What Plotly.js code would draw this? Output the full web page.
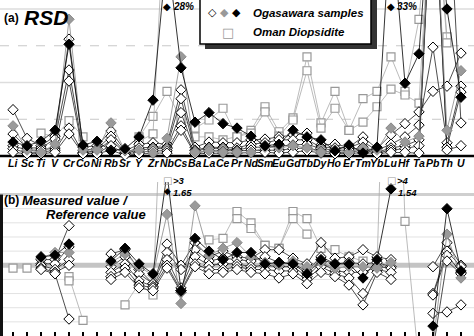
<!DOCTYPE html>
<html><head><meta charset="utf-8">
<script src="https://cdn.plot.ly/plotly-3.0.1.min.js"></script>
<style>html,body{margin:0;padding:0;background:#fff;}#chart{width:474px;height:336px;}</style>
</head><body><div id="chart"></div>
<script>
const elements = ['Li','Sc','Ti','V','Cr','Co','Ni','Rb','Sr','Y','Zr','Nb','Cs','Ba','La','Ce','Pr','Nd','Sm','Eu','Gd','Tb','Dy','Ho','Er','Tm','Yb','Lu','Hf','Ta','Pb','Th','U'];

// (a) RSD, % (values above the top of the scale are off-scale points)
const rsdBlack = [1.9,1.4,2.0,3.5,15.2,1.5,2.0,0.7,1.0,2.6, 7.6,28,12.0,4.6,5.9,4.4,3.8,2.7,1.4,1.6, 3.5,2.6,2.2,0.7,1.5,0.4,1.2,33,9.9,13.9, 40,20.0,8.0];
const rsdGray  = [4.1,0.8,0.5,1.6,18.6,0.8,0.8,4.5,0.7,0.8, 0.4,2.4,13.5,0.5,0.7,0.5,0.5,0.5,1.2,1.1, 1.4,1.1,0.5,0.8,0.5,1.1,0.8,3.8,1.9,2.7, 40,3.5,11.6];
const rsdW1 = [6.3,2.4,1.4,2.7,15.9,1.2,1.4,3.4,0.7,1.6, 1.8,1.6,9.0,1.2,1.9,1.8,1.8,2.2,2.3,2.6, 2.9,3.1,1.5,1.6,1.2,2.6,1.0,2.9,4.4,6.0, 8.8,9.5,14.0];
const rsdW2 = [3.0,1.1,1.1,2.3,11.7,0.8,1.0,2.7,0.5,1.1, 1.2,1.2,7.8,0.8,1.2,1.2,1.1,1.6,1.8,2.2, 2.2,2.2,1.2,1.1,1.1,1.9,0.8,1.6,2.6,4.2, 14.8,1.8,9.5];
const rsdW3 = [1.4,0.8,0.8,1.1,10.2,0.5,0.7,2.2,0.4,0.8, 1.0,1.0,5.9,0.7,1.0,1.0,0.8,1.2,1.2,1.4, 1.5,1.6,1.0,0.8,0.8,1.2,0.5,1.1,1.4,2.2, 40,1.2,8.7];
const rsdW4 = [1.0,0.4,0.5,0.8,3.8,0.4,0.4,1.4,0.3,0.5, 0.7,0.7,4.1,0.4,0.7,0.7,0.7,0.8,0.8,0.8, 1.0,1.1,0.7,0.5,0.5,0.8,0.4,0.8,1.0,1.4, 40,40,4.5];
const rsdW5 = [0.5,0.3,0.3,0.5,3.0,0.3,0.3,0.8,0.1,0.3, 0.4,0.4,3.5,0.3,0.4,0.4,0.4,0.5,0.5,0.4, 0.5,0.7,0.4,0.3,0.3,0.5,0.3,0.5,0.5,0.4, 40,0.8,1.4];
const rsdS1 = [null,null,3.1,2.6,4.8,2.6,null,null,null,2.6, 5.4,8.8,5.0,3.8,4.9,6.5,2.6,3.5,6.7,3.3, 5.2,13.5,4.5,8.8,3.5,7.8,8.8,13.5,8.8,18.6, 40,16.2,null];
const rsdS2 = [null,null,null,null,null,null,null,null,null,2.0, 3.0,40,null,2.6,2.6,2.2,2.6,3.1,6.0,2.7, 4.9,11.6,3.8,6.5,3.5,4.6,6.7,9.1,8.3,7.2, 40,15.4,null];

// (b) measured / reference
const ratBlack = [null,null,1.06,1.07,1.15,null,null,1.03,1.12,1.01, 0.94,1.65,0.82,1.19,1.10,1.04,1.09,1.09,1.01,1.02, 1.01,0.94,1.04,1.01,1.01,0.91,1.04,1.54,null,null, 0.57,1.40,0.96];
const ratGray  = [null,null,1.05,1.09,1.09,null,null,1.02,1.08,0.99, 0.93,1.36,0.73,1.42,1.07,1.12,1.16,1.06,1.02,1.00, 1.03,0.99,1.02,0.98,0.99,0.99,0.98,1.02,null,null, 0.45,1.22,0.91];
const ratW1 = [null,null,1.04,1.04,1.28,null,null,1.08,1.11,0.97, 0.87,1.15,1.00,1.16,1.06,1.10,1.06,1.05,1.11,1.11, 1.05,1.01,1.16,1.05,1.06,1.11,1.06,1.04,null,null, 0.99,1.16,1.00];
const ratW2 = [null,null,1.01,1.01,1.13,null,null,0.99,1.06,0.94, 0.87,1.09,0.97,1.11,1.03,1.05,1.04,1.03,1.06,1.02, 1.01,0.96,1.06,1.01,1.02,1.01,1.02,0.99,null,null, 0.80,1.10,0.99];
const ratW3 = [null,null,1.00,0.97,1.04,null,null,0.95,1.01,0.89, 0.85,1.04,0.84,1.06,1.00,1.01,1.01,0.99,1.00,0.99, 0.99,0.92,1.02,0.96,0.95,0.95,0.99,0.98,null,null, 0.79,1.07,0.95];
const ratW4 = [null,null,0.98,0.95,1.00,null,null,0.92,0.98,0.86, 0.84,1.00,0.82,1.01,0.97,0.97,0.99,0.97,0.97,0.96, 0.96,0.90,0.99,0.94,0.91,0.80,0.97,0.95,null,null, 0.66,0.67,0.72];
const ratW5 = [null,null,0.97,0.94,0.62,null,null,0.90,0.95,0.84, 0.82,0.98,0.81,0.99,0.94,0.95,0.97,0.95,0.94,0.91, 0.94,0.87,0.95,0.92,0.86,0.72,0.95,0.90,null,null, 0.40,1.03,0.94];
const ratS1 = [0.98,0.98,null,null,0.92,0.61,null,null,0.72,0.87, 0.79,3.2,null,null,1.18,1.19,1.38,1.30,1.14,1.12, 1.38,1.33,1.12,1.11,1.06,1.03,0.99,4.2,1.31,0.3, null,null,null];
const ratS2 = [null,null,null,null,0.89,null,null,null,null,null, null,null,null,null,null,null,1.33,1.26,1.14,1.12, 1.33,1.22,null,null,null,null,null,null,null,null, null,null,null];

const W = 474, H = 336;
const px = p => p / W;          // pixel -> paper x
const py = p => 1 - p / H;      // pixel -> paper y
const FONT = 'Liberation Sans, Arial, sans-serif';

const styles = {
  white: {line:{color:'#222', width:0.8}, marker:{symbol:'diamond', size:8, color:'#fff', line:{color:'#000', width:1}}},
  gray:  {line:{color:'#888', width:0.8}, marker:{symbol:'diamond', size:8, color:'#9a9a9a', line:{color:'#8a8a8a', width:1}}},
  black: {line:{color:'#000', width:0.8}, marker:{symbol:'diamond', size:8, color:'#000', line:{color:'#000', width:1}}},
  square:{line:{color:'#aaa', width:0.8}, marker:{symbol:'square', size:8, color:'#fff', line:{color:'#999', width:1.2}}}
};
function tr(y, st, panel){
  const s = styles[st];
  return {x: elements, y: y, type:'scatter', mode:'lines+markers',
    xaxis: panel === 'a' ? 'x' : 'x2', yaxis: panel === 'a' ? 'y' : 'y2',
    line: s.line, marker: s.marker, showlegend:false, hoverinfo:'skip'};
}
const data = [
  tr(rsdS1,'square','a'), tr(rsdS2,'square','a'),
  tr(rsdW1,'white','a'), tr(rsdW2,'white','a'), tr(rsdW3,'white','a'), tr(rsdW4,'white','a'), tr(rsdW5,'white','a'),
  tr(rsdGray,'gray','a'), tr(rsdBlack,'black','a'),
  tr(ratS1,'square','b'), tr(ratS2,'square','b'),
  tr(ratW1,'white','b'), tr(ratW2,'white','b'), tr(ratW3,'white','b'), tr(ratW4,'white','b'), tr(ratW5,'white','b'),
  tr(ratGray,'gray','b'), tr(ratBlack,'black','b')
];

// axis geometry
const aPerUnit = 7.35, aZeroPx = 156, aBottomPx = 159;
const yA = [(aZeroPx - aBottomPx)/aPerUnit, aZeroPx/aPerUnit];
const bPerUnit = 141, bOnePx = 265, bTopPx = 182;
const yB = [0.5, 1 + (bOnePx - bTopPx)/bPerUnit];
const xr = [-0.93, 32.93];

const shapes = [];
// panel (a) grid
[5,10,15,20].forEach(v => shapes.push({type:'line', xref:'paper', yref:'y', x0:0, x1:1, y0:v, y1:v,
  line:{color: v%10 ? '#c8c8c8' : '#dddddd', width: v%10 ? 1 : 1.5, dash: v%10 ? 'dash' : 'solid'}, layer:'below'}));
shapes.push({type:'line', xref:'paper', yref:'y', x0:0, x1:1, y0:0, y1:0, line:{color:'#000', width:2.5}, layer:'below'});
// panel (b) grid
[0.6,0.7,0.8,0.9,1.1,1.2,1.3,1.4].forEach(v => shapes.push({type:'line', xref:'paper', yref:'y2', x0:0, x1:1, y0:v, y1:v,
  line:{color:'#e2e2e2', width:1}, layer:'below'}));
shapes.push({type:'line', xref:'paper', yref:'y2', x0:0, x1:1, y0:1, y1:1, line:{color:'#c4c4c4', width:5}, layer:'below'});
shapes.push({type:'line', xref:'paper', yref:'y2', x0:0, x1:1, y0:1.5, y1:1.5, line:{color:'#cfcfcf', width:3}, layer:'below'});
shapes.push({type:'line', xref:'paper', yref:'y2', x0:px(1.5), x1:px(1.5), y0:0.5, y1:1.5, line:{color:'#111', width:3}, layer:'above'});
// legend box with shadow
shapes.push({type:'rect', xref:'paper', yref:'paper', x0:px(205), x1:px(377), y0:py(49), y1:py(-10), fillcolor:'#333', line:{width:0}, layer:'above'});
shapes.push({type:'rect', xref:'paper', yref:'paper', x0:px(200), x1:px(371), y0:py(44), y1:py(-10), fillcolor:'#fff', line:{color:'#000', width:1.5}, layer:'above'});

const annotations = [];
function ann(text, xp, yp, size, opts){
  annotations.push(Object.assign({text:text, xref:'paper', yref:'paper', x:px(xp), y:py(yp), xanchor:'left', yanchor:'middle',
    showarrow:false, font:{family:FONT, size:size, color:'#000', weight:'bold', style:'italic'}}, opts||{}));
}
// element labels under panel (a)
elements.forEach(el => annotations.push({text:el, xref:'x', yref:'paper', x:el, y:py(163.5), xanchor:'center', yanchor:'middle',
  showarrow:false, font:{family:FONT, size:10.5, color:'#000', weight:'bold', style:'italic'}}));
// titles
ann('(a)', 2, 18, 12, {font:{family:FONT, size:12, color:'#000', weight:'bold'}});
ann('RSD', 22, 17, 21);
ann('(b)', 2, 200, 12, {font:{family:FONT, size:12, color:'#000', weight:'bold'}});
ann('Measured value /', 20, 200, 13);
ann('Reference value', 148, 215, 13, {xanchor:'right'});
// legend
ann('<span style="color:#000">◇</span> <span style="color:#999">◆</span> ◆', 206, 13, 11, {font:{family:'DejaVu Sans', size:11, color:'#000'}});
ann('□', 220, 32, 12, {font:{family:'DejaVu Sans', size:13, color:'#999'}});
ann('Ogasawara samples', 251, 13, 11.5);
ann('Oman Diopsidite', 251, 32, 11.5);
// off-scale labels
ann('◆', 161, 6, 10, {font:{family:'DejaVu Sans', size:10, color:'#000'}});
ann('28%', 171, 6, 10);
ann('◆', 385, 6, 10, {font:{family:'DejaVu Sans', size:10, color:'#000'}});
ann('33%', 395, 6, 10);
ann('□', 161, 180, 10, {font:{family:'DejaVu Sans', size:10, color:'#999'}});
ann('>3', 171, 180, 9.5);
ann('◆', 162, 191, 9, {font:{family:'DejaVu Sans', size:9, color:'#000'}});
ann('1.65', 171, 192, 9.5);
ann('□', 385, 180, 10, {font:{family:'DejaVu Sans', size:10, color:'#999'}});
ann('>4', 395, 180, 9.5);
ann('1.54', 396, 192, 9.5);

const layout = {
  width: W, height: H, margin:{l:0, r:0, t:0, b:0}, paper_bgcolor:'#fff', plot_bgcolor:'rgba(0,0,0,0)',
  showlegend:false,
  xaxis:{domain:[0,1], anchor:'y', type:'category', range:xr, showgrid:false, zeroline:false, showline:false, showticklabels:false, ticks:''},
  yaxis:{domain:[py(aBottomPx),1], anchor:'x', range:yA, showgrid:false, zeroline:false, showline:false, showticklabels:false, ticks:''},
  xaxis2:{domain:[0,1], anchor:'y2', type:'category', range:xr, showgrid:false, zeroline:false, showline:false, showticklabels:false,
    ticks:'inside', ticklen:4, tickwidth:1.5, tickcolor:'#000', tickmode:'array', tickvals:elements},
  yaxis2:{domain:[0, py(bTopPx)], anchor:'x2', range:yB, showgrid:false, zeroline:false, showline:false, showticklabels:false, ticks:''},
  shapes: shapes, annotations: annotations
};
Plotly.newPlot('chart', data, layout, {staticPlot:true, displayModeBar:false});
</script></body></html>
